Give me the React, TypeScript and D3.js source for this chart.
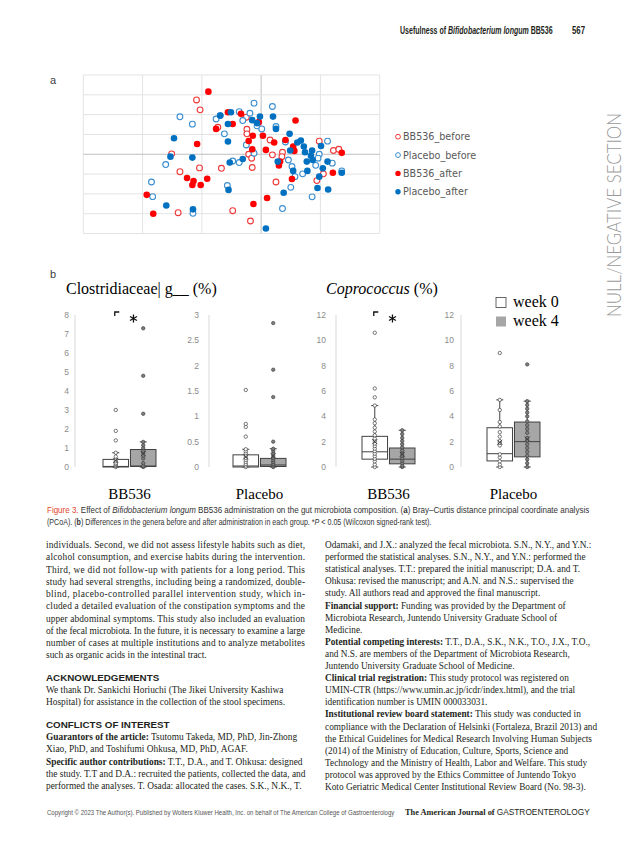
import * as React from 'react';
import * as d3 from 'd3';

const W = 638;
const H = 841;

// ---------- panel a: Bray–Curtis PCoA ----------
const pcoaSeries = ['BB536_before', 'Placebo_before', 'BB536_after', 'Placebo_after'];
const seriesColor = ['#ee3a3a', '#3b8ed0', '#ff0000', '#0070c0'];
const seriesFilled = [false, false, true, true];

const bb536Before: [number, number][] = [
  [-0.109, 0.274], [-0.103, 0.224], [-0.073, 0.136], [-0.151, 0.002], [-0.137, -0.088],
  [-0.104, -0.069], [-0.067, -0.071], [-0.024, 0.126], [-0.024, 0.103], [-0.021, 0.0],
  [-0.016, -0.02], [-0.015, -0.067], [0.015, 0.072], [0.019, -0.003], [0.036, 0.01],
  [0.035, -0.012], [0.025, -0.14], [0.098, 0.066], [0.122, 0.019], [0.131, 0.025],
  [0.105, -0.099], [0.094, -0.133], [-0.14, -0.295], [-0.048, -0.285], [-0.018, -0.337],
  [-0.025, 0.187],
];
const placeboBefore: [number, number][] = [
  [-0.137, 0.189], [-0.116, 0.152], [-0.161, -0.052], [-0.185, -0.14], [-0.183, -0.214],
  [-0.115, -0.298], [-0.076, 0.178], [-0.069, 0.195], [-0.062, 0.103], [-0.037, 0.215],
  [-0.031, 0.17], [-0.019, 0.207], [-0.012, 0.258], [-0.048, -0.034], [-0.037, -0.042],
  [-0.025, 0.047], [-0.012, 0.005], [-0.007, 0.143], [0.001, 0.128], [0.025, 0.14],
  [0.019, 0.241], [0.041, 0.062], [0.046, -0.029], [0.052, -0.062], [0.057, -0.113],
  [0.07, -0.099], [0.05, -0.167], [0.036, -0.274], [0.086, -0.215], [0.092, -0.056],
  [0.098, 0.0], [0.096, -0.02], [0.112, 0.066], [0.12, -0.045], [0.136, -0.084],
  [-0.057, -0.158],
];
const bb536After: [number, number][] = [
  [-0.089, 0.316], [-0.108, 0.052], [-0.056, 0.212], [-0.048, 0.153], [-0.076, 0.128],
  [-0.034, 0.204], [-0.004, 0.162], [0.058, 0.17], [-0.021, 0.067], [-0.014, 0.093],
  [0.003, 0.093], [-0.015, 0.025], [0.008, 0.022], [0.022, 0.059], [0.041, 0.072],
  [0.054, 0.039], [0.056, 0.017], [0.032, -0.037], [0.03, -0.057], [0.052, -0.125],
  [0.136, 0.007], [0.121, -0.093], [-0.125, -0.12], [-0.114, -0.135], [-0.116, -0.155],
  [-0.102, -0.155], [-0.091, -0.124], [-0.193, -0.205], [-0.182, -0.3], [-0.013, -0.251],
  [0.01, -0.221],
];
const placeboAfter: [number, number][] = [
  [-0.147, 0.081], [-0.153, -0.012], [-0.116, -0.017], [-0.16, -0.259], [-0.115, -0.278],
  [-0.069, 0.195], [-0.051, 0.212], [-0.056, 0.153], [-0.056, 0.064], [-0.053, -0.042],
  [-0.031, -0.024], [-0.015, 0.172], [-0.007, 0.157], [-0.002, 0.19], [0.02, 0.19],
  [0.025, 0.128], [0.048, 0.103], [0.061, 0.059], [0.067, 0.069], [0.049, 0.019],
  [0.072, 0.039], [0.074, 0.01], [0.028, -0.037], [0.054, -0.084], [0.086, 0.019],
  [0.084, -0.008], [0.087, -0.029], [0.077, -0.037], [0.101, 0.042], [0.104, -0.071],
  [0.112, -0.037], [0.098, -0.113], [0.095, -0.17], [0.113, -0.178], [0.038, -0.194],
  [-0.055, -0.18], [0.008, -0.375], [0.136, -0.093], [0.078, -0.084],
];
const pcoaData = [bb536Before, placeboBefore, bb536After, placeboAfter];

// ---------- panel b: box plots ----------
const genusTitles = ['Clostridiaceae| g__', 'Coprococcus'];
const groupNames = ['BB536', 'Placebo', 'BB536', 'Placebo'];
const weekNames = ['week 0', 'week 4'];
const axisMax = [8, 3, 12, 12];
const axisStep = [1, 0.5, 2, 2];
const significant = [true, false, true, false];
// [min, q1, median, q3, upper whisker, mean]
const week0Box = [
  [0, 0, 0.03, 0.4, 0.75, 0.35],
  [0, 0, 0.02, 0.24, 0.35, 0.2],
  [0, 0.62, 1.2, 2.42, 4.85, 2.0],
  [0, 0.48, 1.05, 3.1, 5.3, 1.95],
];
const week4Box = [
  [0, 0.03, 0.05, 0.92, 1.32, 0.7],
  [0, 0.01, 0.04, 0.17, 0.36, 0.22],
  [0, 0.25, 0.62, 1.5, 2.9, 1.0],
  [0, 0.8, 2.0, 3.55, 5.2, 2.2],
];
const week0Points = [
  [0, 0.05, 0.1, 0.15, 0.2, 0.3, 0.4, 0.55, 0.75],
  [0, 0.03, 0.06, 0.1, 0.14, 0.18, 0.22, 0.27, 0.31, 0.35],
  [0, 0.2, 0.45, 0.65, 0.85, 1.05, 1.25, 1.45, 1.65, 1.85, 2.05, 2.25, 2.5, 2.8, 3.1, 3.45, 3.75, 4.85],
  [0, 0.2, 0.45, 0.75, 1.0, 1.7, 1.9, 2.05, 2.4, 2.75, 3.2, 3.55, 4.5, 5.3],
];
const week0Outliers = [[1.4, 1.9, 3.0], [0.6, 0.79, 0.85, 1.52], [5.5, 6.2, 10.6], [9.0]];
const week4Points = [
  [0, 0.05, 0.2, 0.45, 0.6, 0.75, 0.85, 1.0, 1.15, 1.32],
  [0, 0.03, 0.06, 0.1, 0.14, 0.18, 0.22, 0.27, 0.32, 0.36],
  [0, 0.1, 0.3, 0.5, 0.7, 0.9, 1.1, 1.3, 1.55, 1.8, 2.05, 2.3, 2.6, 2.9],
  [0, 0.3, 0.6, 0.9, 1.2, 1.5, 1.8, 2.1, 2.3, 2.7, 3.0, 3.3, 3.6, 4.0, 4.3, 4.6, 4.9, 5.2],
];
const week4Outliers = [[2.8, 4.8, 7.3], [0.5, 1.38, 1.92, 2.84], [], [8.1]];

// ---------- page text ----------
const leftParagraph = [
  'individuals. Second, we did not assess lifestyle habits such as diet,',
  'alcohol consumption, and exercise habits during the intervention.',
  'Third, we did not follow-up with patients for a long period. This',
  'study had several strengths, including being a randomized, double-',
  'blind, placebo-controlled parallel intervention study, which in-',
  'cluded a detailed evaluation of the constipation symptoms and the',
  'upper abdominal symptoms. This study also included an evaluation',
  'of the fecal microbiota. In the future, it is necessary to examine a large',
  'number of cases at multiple institutions and to analyze metabolites',
  'such as organic acids in the intestinal tract.',
];
const ackLines = [
  'We thank Dr. Sankichi Horiuchi (The Jikei University Kashiwa',
  'Hospital) for assistance in the collection of the stool specimens.',
];
const conflictLines: [string, string][] = [
  ['Guarantors of the article:', ' Tsutomu Takeda, MD, PhD, Jin-Zhong'],
  ['', 'Xiao, PhD, and Toshifumi Ohkusa, MD, PhD, AGAF.'],
  ['Specific author contributions:', ' T.T., D.A., and T. Ohkusa: designed'],
  ['', 'the study. T.T and D.A.: recruited the patients, collected the data, and'],
  ['', 'performed the analyses. T. Osada: allocated the cases. S.K., N.K., T.'],
];
const rightLines: [string, string][] = [
  ['', 'Odamaki, and J.X.: analyzed the fecal microbiota. S.N., N.Y., and Y.N.:'],
  ['', 'performed the statistical analyses. S.N., N.Y., and Y.N.: performed the'],
  ['', 'statistical analyses. T.T.: prepared the initial manuscript; D.A. and T.'],
  ['', 'Ohkusa: revised the manuscript; and A.N. and N.S.: supervised the'],
  ['', 'study. All authors read and approved the final manuscript.'],
  ['Financial support:', ' Funding was provided by the Department of'],
  ['', 'Microbiota Research, Juntendo University Graduate School of'],
  ['', 'Medicine.'],
  ['Potential competing interests:', ' T.T., D.A., S.K., N.K., T.O., J.X., T.O.,'],
  ['', 'and N.S. are members of the Department of Microbiota Research,'],
  ['', 'Juntendo University Graduate School of Medicine.'],
  ['Clinical trial registration:', ' This study protocol was registered on'],
  ['', 'UMIN-CTR (https://www.umin.ac.jp/icdr/index.html), and the trial'],
  ['', 'identification number is UMIN 000033031.'],
  ['Institutional review board statement:', ' This study was conducted in'],
  ['', 'compliance with the Declaration of Helsinki (Fortaleza, Brazil 2013) and'],
  ['', 'the Ethical Guidelines for Medical Research Involving Human Subjects'],
  ['', '(2014) of the Ministry of Education, Culture, Sports, Science and'],
  ['', 'Technology and the Ministry of Health, Labor and Welfare. This study'],
  ['', 'protocol was approved by the Ethics Committee of Juntendo Tokyo'],
  ['', 'Koto Geriatric Medical Center Institutional Review Board (No. 98-3).'],
];

const serif = "'Liberation Serif', 'Times New Roman', serif";
const sans = "'Liberation Sans', Arial, sans-serif";
const ink = '#231f20';

// text squeezed horizontally to a given width (condensed faces are not installed)
function FitText({ x, y, width, children, ...rest }: any) {
  const ref = React.useRef<SVGTextElement>(null);
  const [s, setS] = React.useState(1);
  React.useLayoutEffect(() => {
    if (ref.current) {
      const w = ref.current.getComputedTextLength();
      if (w > 0) setS(width / w);
    }
  }, [width]);
  return (
    <g transform={`translate(${x},${y}) scale(${s},1)`}>
      <text ref={ref} x={0} y={0} {...rest}>{children}</text>
    </g>
  );
}

function BoxPanel({ i }: { i: number }) {
  const axisX = [75, 209, 336, 461][i];
  const labelX = [69, 199, 326, 454][i];
  const start = [103, 233, 362, 487][i];
  const y = d3.scaleLinear().domain([0, axisMax[i]]).range([467, 315]);
  const x = d3.scaleBand().domain(weekNames).range([start, start + 53]).paddingInner(0.07);
  const bw = x.bandwidth();
  const ticks = d3.range(0, axisMax[i] + axisStep[i] / 2, axisStep[i]);
  const boxes = [week0Box[i], week4Box[i]];
  const pts = [week0Points[i], week4Points[i]];
  const outs = [week0Outliers[i], week4Outliers[i]];
  const stroke = '#404040';
  return (
    <g>
      <line x1={axisX} x2={axisX} y1={y(axisMax[i])} y2={y(0)} stroke="#d9d9d9" />
      {ticks.map(t => (
        <text key={t} x={labelX} y={y(t) + 3} textAnchor="end" fontSize={8.5}
          fontFamily={sans} fill="#8c8c8c">{d3.format('~g')(t)}</text>
      ))}
      {weekNames.map((w, k) => {
        const [mn, q1, md, q3, hi, mean] = boxes[k];
        const x0 = x(w)!;
        const cx = x0 + bw / 2;
        const fill = k === 0 ? '#ffffff' : '#a6a6a6';
        return (
          <g key={w}>
            <line x1={cx} x2={cx} y1={y(q3)} y2={y(hi)} stroke={stroke} />
            <line x1={cx - 3.5} x2={cx + 3.5} y1={y(hi)} y2={y(hi)} stroke={stroke} />
            <line x1={cx} x2={cx} y1={y(q1)} y2={y(mn)} stroke={stroke} />
            <line x1={cx - 3.5} x2={cx + 3.5} y1={y(mn)} y2={y(mn)} stroke={stroke} />
            <rect x={x0} y={y(q3)} width={bw} height={Math.max(0.5, y(q1) - y(q3))}
              fill={fill} stroke={stroke} strokeWidth={1} />
            <line x1={x0} x2={x0 + bw} y1={y(md)} y2={y(md)} stroke={stroke} strokeWidth={1} />
            {pts[k].concat(outs[k]).map((v, j) => (
              <circle key={j} cx={cx} cy={y(v)} r={1.7}
                fill={k === 0 ? '#ffffff' : '#7f7f7f'} stroke={stroke} strokeWidth={0.7} />
            ))}
            <path d={`M${cx - 2.5},${y(mean) - 2.5}L${cx + 2.5},${y(mean) + 2.5}M${cx - 2.5},${y(mean) + 2.5}L${cx + 2.5},${y(mean) - 2.5}`}
              stroke={stroke} strokeWidth={1} />
          </g>
        );
      })}
      {significant[i] && (() => {
        const bx = x(weekNames[0])! + bw / 2 - 1;
        const sx = x(weekNames[1])! + 3;
        const sy = 318.5;
        const r = 4;
        return (
          <g stroke="#111" strokeWidth={1.3} fill="none">
            <path d={`M${bx},${316}V${312}H${bx + 4.5}`} />
            {[90, 30, -30].map(a => {
              const rad = (a * Math.PI) / 180;
              return <line key={a} x1={sx - r * Math.cos(rad)} y1={sy - r * Math.sin(rad)}
                x2={sx + r * Math.cos(rad)} y2={sy + r * Math.sin(rad)} />;
            })}
          </g>
        );
      })()}
      <text x={start + 26.5} y={499} textAnchor="middle" fontFamily={serif} fontSize={15} fill="#000">
        {groupNames[i]}
      </text>
    </g>
  );
}

export default function App() {
  const x = d3.scaleLinear().domain([-0.3, 0.2]).range([83.3, 379.7]);
  const y = d3.scaleLinear().domain([-0.4, 0.4]).range([233.5, 75]);
  const xTicks = d3.range(-3, 3).map(d => d / 10);
  const yTicks = d3.range(-4, 5).map(d => d / 10);

  const leftY0 = 548;
  const lh = 12.25;

  return (
    <svg width={W} height={H} viewBox={`0 0 ${W} ${H}`}
      style={{ position: 'absolute', left: 0, top: 0, background: '#fff' }}>
      <rect width={W} height={H} fill="#fff" />

      {/* running head */}
      <FitText x={400} y={34} width={153} fontFamily={sans} fontSize={10} fontWeight="bold" fill={ink}>
        Usefulness of <tspan fontStyle="italic">Bifidobacterium longum</tspan> BB536
      </FitText>
      <FitText x={572} y={34} width={13} fontFamily={sans} fontSize={10} fontWeight="bold" fill={ink}>567</FitText>

      {/* side tab */}
      <text transform="translate(621,215) rotate(-90)" textAnchor="middle" fontFamily="Lato, sans-serif"
        fontWeight={300} fontSize={19} fill="#9a9a9a" textLength={204} lengthAdjust="spacingAndGlyphs">
        NULL/NEGATIVE SECTION
      </text>

      {/* panel a */}
      <text x={50} y={84} fontFamily={sans} fontSize={11} fill="#404040">a</text>
      {xTicks.map(t => (
        <line key={`vx${t}`} x1={x(t)} x2={x(t)} y1={y(0.4)} y2={y(-0.4)}
          stroke={Math.abs(t) < 1e-9 ? '#bfbfbf' : '#e3e3e3'} strokeWidth={1} />
      ))}
      {yTicks.map(t => (
        <line key={`hy${t}`} x1={x(-0.3)} x2={x(0.2)} y1={y(t)} y2={y(t)}
          stroke={Math.abs(t) < 1e-9 ? '#bfbfbf' : '#e3e3e3'} strokeWidth={1} />
      ))}
      {pcoaData.map((series, s) => (
        <g key={pcoaSeries[s]}>
          {series.map(([px, py], j) => (
            <circle key={j} cx={x(px)} cy={y(py)} r={seriesFilled[s] ? 3.3 : 2.9}
              fill={seriesFilled[s] ? seriesColor[s] : '#fff'}
              stroke={seriesFilled[s] ? 'none' : seriesColor[s]} strokeWidth={1.1} />
          ))}
        </g>
      ))}
      {pcoaSeries.map((name, s) => (
        <g key={name} transform={`translate(398,${136.7 + s * 18.35})`}>
          <circle r={seriesFilled[s] ? 2.7 : 2.4} fill={seriesFilled[s] ? seriesColor[s] : '#fff'}
            stroke={seriesFilled[s] ? 'none' : seriesColor[s]} strokeWidth={1} />
          <text x={5} y={3.5} fontFamily="'DejaVu Sans', sans-serif" fontSize={9.6} fill="#595959">{name}</text>
        </g>
      ))}

      {/* panel b */}
      <text x={50} y={278} fontFamily={sans} fontSize={11} fill="#404040">b</text>
      <text x={66} y={294} fontFamily={serif} fontSize={16} fill="#000">{genusTitles[0]} (%)</text>
      <text x={326} y={294} fontFamily={serif} fontSize={16} fill="#000">
        <tspan fontStyle="italic">{genusTitles[1]}</tspan> (%)
      </text>
      {[0, 1, 2, 3].map(i => <BoxPanel key={i} i={i} />)}
      <rect x={496} y={297.5} width={10} height={10} fill="#fff" stroke="#404040" strokeWidth={0.8} />
      <text x={513} y={307} fontFamily={serif} fontSize={16} fill="#000">{weekNames[0]}</text>
      <rect x={496} y={316.5} width={10} height={10} fill="#a6a6a6" />
      <text x={513} y={326} fontFamily={serif} fontSize={16} fill="#000">{weekNames[1]}</text>

      {/* caption */}
      <FitText x={47} y={513} width={543} fontFamily={sans} fontSize={8.6} fill="#333">
        <tspan fill="#e2452b">Figure 3.</tspan> Effect of <tspan fontStyle="italic">Bifidobacterium longum</tspan> BB536
        administration on the gut microbiota composition. (<tspan fontWeight="bold">a</tspan>) Bray–Curtis distance principal coordinate analysis
      </FitText>
      <FitText x={47} y={525} width={385} fontFamily={sans} fontSize={8.6} fill="#333">
        (PCoA). (<tspan fontWeight="bold">b</tspan>) Differences in the genera before and after administration in each group. *<tspan fontStyle="italic">P</tspan> {'<'} 0.05 (Wilcoxon signed-rank test).
      </FitText>

      {/* left column */}
      <g fontFamily={serif} fontSize={9.4} fill={ink}>
        {leftParagraph.map((l, k) => (
          <text key={k} x={46} y={leftY0 + k * lh}
            {...(k < leftParagraph.length - 1 ? { textLength: 259, lengthAdjust: 'spacing' } : {})}>{l}</text>
        ))}
        <text x={46} y={680.5} fontFamily={sans} fontWeight="bold" fontSize={9.8}>ACKNOWLEDGEMENTS</text>
        {ackLines.map((l, k) => (
          <text key={k} x={46} y={692.5 + k * lh}>{l}</text>
        ))}
        <text x={46} y={727.5} fontFamily={sans} fontWeight="bold" fontSize={9.8}>CONFLICTS OF INTEREST</text>
        {conflictLines.map(([b, t], k) => (
          <text key={k} x={46} y={740 + k * lh}>
            {b && <tspan fontWeight="bold">{b}</tspan>}{t}
          </text>
        ))}
      </g>

      {/* right column */}
      <g fontFamily={serif} fontSize={9.3} fill={ink}>
        {rightLines.map(([b, t], k) => (
          <text key={k} x={325} y={548 + k * 12.1}>
            {b && <tspan fontWeight="bold">{b}</tspan>}{t}
          </text>
        ))}
      </g>

      {/* footer */}
      <FitText x={47} y={815} width={348} fontFamily={sans} fontSize={6.4} fill="#555">
        Copyright © 2023 The Author(s). Published by Wolters Kluwer Health, Inc. on behalf of The American College of Gastroenterology
      </FitText>
      <FitText x={405} y={815} width={185} fontSize={9.2} fill={ink}>
        <tspan fontFamily={serif} fontWeight="bold">The American Journal of </tspan>
        <tspan fontFamily={sans}>GASTROENTEROLOGY</tspan>
      </FitText>
    </svg>
  );
}
